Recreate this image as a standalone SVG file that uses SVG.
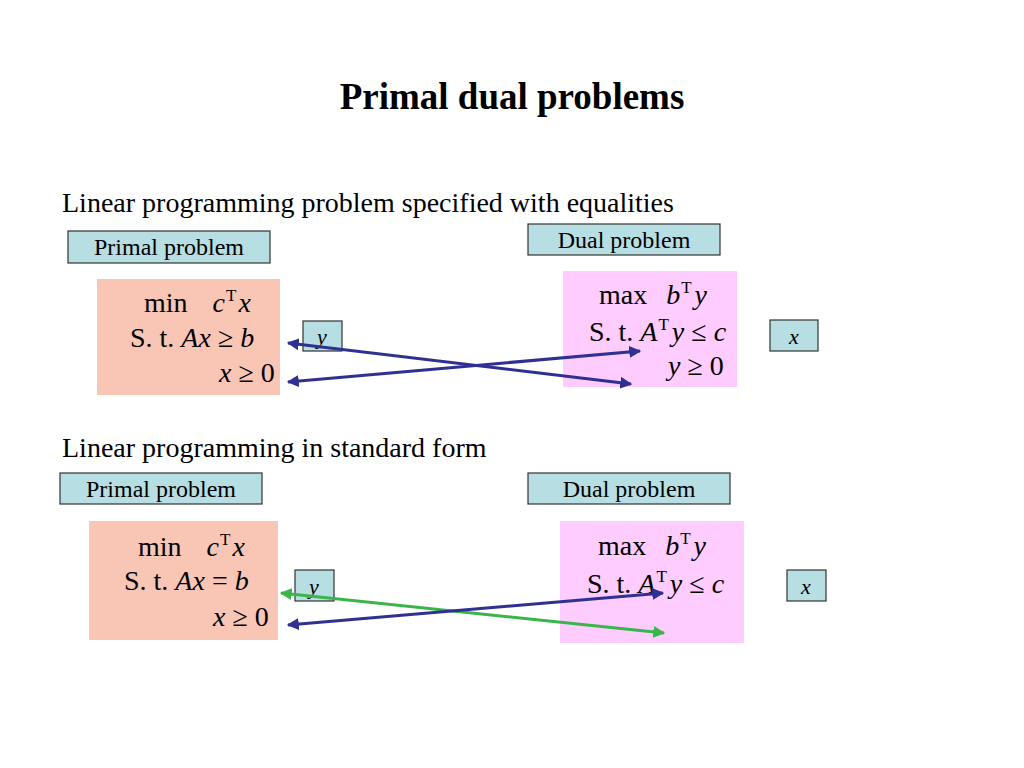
<svg xmlns="http://www.w3.org/2000/svg" width="1024" height="768" viewBox="0 0 1024 768">
<style>
text{font-family:"Liberation Serif","Times New Roman",serif;fill:#000}
.lab{fill:#B7DEE2;stroke:#333;stroke-width:1.2}
.i{font-style:italic}
.t{font-size:28px}
.m{font-size:28px}
.sup{font-size:17px}
.blue{stroke:#2E3192;stroke-width:3;fill:none;marker-start:url(#ab);marker-end:url(#ab)}
.green{stroke:#39B54A;stroke-width:3;fill:none;marker-start:url(#ag);marker-end:url(#ag)}
</style>
<defs>
<marker id="ab" viewBox="0 0 10 10" refX="9" refY="5" markerWidth="4" markerHeight="4" orient="auto-start-reverse"><path d="M0,0L10,5L0,10z" fill="#2E3192"/></marker>
<marker id="ag" viewBox="0 0 10 10" refX="9" refY="5" markerWidth="4" markerHeight="4" orient="auto-start-reverse"><path d="M0,0L10,5L0,10z" fill="#39B54A"/></marker>
</defs>
<rect width="1024" height="768" fill="#fff"/>
<text x="512" y="109" text-anchor="middle" font-size="37" font-weight="bold">Primal dual problems</text>
<text x="62" y="212" class="t">Linear programming problem specified with equalities</text>
<text x="62" y="457" class="t">Linear programming in standard form</text>

<g id="primal1">
<rect x="68" y="231" width="202" height="32" class="lab"/>
<text x="169" y="255" text-anchor="middle" font-size="24">Primal problem</text>
</g>
<g id="dual1">
<rect x="528" y="224" width="192" height="31" class="lab"/>
<text x="624" y="248" text-anchor="middle" font-size="24">Dual problem</text>
</g>
<g id="pbox1">
<rect x="97" y="279" width="183" height="116" fill="#F9C6B6"/>
<text x="144" y="312" class="m">min <tspan class="i" dx="18">c</tspan><tspan class="sup" dy="-11" dx="1">T</tspan><tspan class="i" dy="11" dx="2">x</tspan></text>
<text x="130" y="347" class="m">S. t.  <tspan class="i">Ax</tspan> ≥ <tspan class="i">b</tspan></text>
<text x="219" y="382" class="m"><tspan class="i">x</tspan> ≥ 0</text>
</g>
<g id="dbox1">
<rect x="563" y="271" width="174" height="116" fill="#FFCCFF"/>
<text x="599" y="304" class="m">max <tspan class="i" dx="12">b</tspan><tspan class="sup" dy="-11" dx="1">T</tspan><tspan class="i" dy="11" dx="3">y</tspan></text>
<text x="589" y="341" class="m">S. t.  <tspan class="i">A</tspan><tspan class="sup" dy="-11" dx="1">T</tspan><tspan class="i" dy="11" dx="3">y</tspan> ≤ <tspan class="i">c</tspan></text>
<text x="668" y="375" class="m"><tspan class="i">y</tspan> ≥ 0</text>
</g>
<g id="y1">
<rect x="303" y="321" width="39" height="30" class="lab"/>
<text x="322" y="344" text-anchor="middle" font-size="22" class="i">y</text>
</g>
<g id="x1">
<rect x="770" y="320" width="48" height="31" class="lab"/>
<text x="794" y="344" text-anchor="middle" font-size="22" class="i">x</text>
</g>

<g id="primal2">
<rect x="60" y="473" width="202" height="31" class="lab"/>
<text x="161" y="497" text-anchor="middle" font-size="24">Primal problem</text>
</g>
<g id="dual2">
<rect x="528" y="473" width="202" height="31" class="lab"/>
<text x="629" y="497" text-anchor="middle" font-size="24">Dual problem</text>
</g>
<g id="pbox2">
<rect x="89" y="521" width="189" height="119" fill="#F9C6B6"/>
<text x="138" y="556" class="m">min <tspan class="i" dx="18">c</tspan><tspan class="sup" dy="-11" dx="1">T</tspan><tspan class="i" dy="11" dx="2">x</tspan></text>
<text x="124" y="590" class="m">S. t.  <tspan class="i">Ax</tspan> = <tspan class="i">b</tspan></text>
<text x="213" y="626" class="m"><tspan class="i">x</tspan> ≥ 0</text>
</g>
<g id="dbox2">
<rect x="560" y="521" width="184" height="122" fill="#FFCCFF"/>
<text x="598" y="555" class="m">max <tspan class="i" dx="12">b</tspan><tspan class="sup" dy="-11" dx="1">T</tspan><tspan class="i" dy="11" dx="3">y</tspan></text>
<text x="587" y="593" class="m">S. t.  <tspan class="i">A</tspan><tspan class="sup" dy="-11" dx="1">T</tspan><tspan class="i" dy="11" dx="3">y</tspan> ≤ <tspan class="i">c</tspan></text>
</g>
<g id="y2">
<rect x="295" y="570" width="39" height="31" class="lab"/>
<text x="314" y="594" text-anchor="middle" font-size="22" class="i">y</text>
</g>
<g id="x2">
<rect x="787" y="570" width="39" height="31" class="lab"/>
<text x="806" y="594" text-anchor="middle" font-size="22" class="i">x</text>
</g>

<g id="connectors">
<line x1="288" y1="343" x2="631" y2="384" class="blue"/>
<line x1="288" y1="382" x2="640" y2="351" class="blue"/>
<line x1="281" y1="593" x2="664" y2="633" class="green"/>
<line x1="288" y1="625" x2="663" y2="593" class="blue"/>
</g>
</svg>
